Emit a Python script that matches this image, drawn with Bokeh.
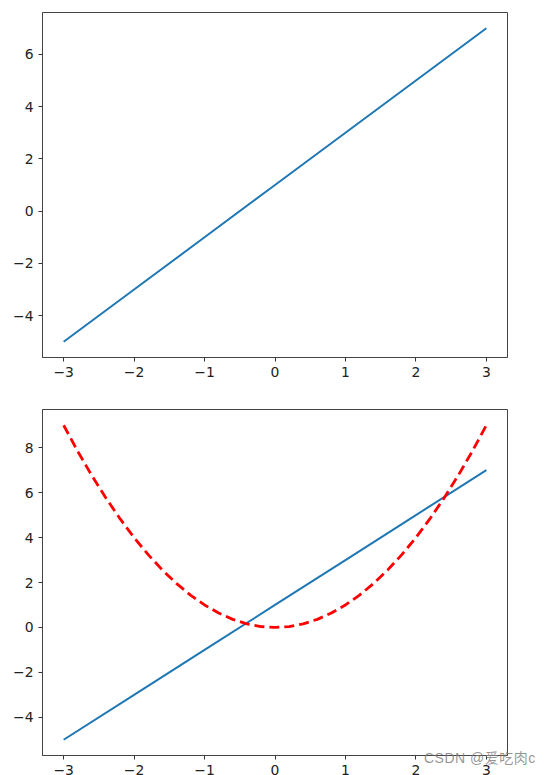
from bokeh.plotting import figure
from bokeh.layouts import column
from bokeh.models import Range1d, FixedTicker, CustomJSTickFormatter, Div
from bokeh.embed import file_html
from bokeh.resources import INLINE

# ---- data ----
line_x = [-3, -2, -1, 0, 1, 2, 3]
line_y = [-5, -3, -1, 1, 3, 5, 7]

curve_x = [-3.0, -2.8, -2.6, -2.4, -2.2, -2.0, -1.8, -1.6, -1.4, -1.2, -1.0,
           -0.8, -0.6, -0.4, -0.2, 0.0, 0.2, 0.4, 0.6, 0.8, 1.0, 1.2, 1.4,
           1.6, 1.8, 2.0, 2.2, 2.4, 2.6, 2.8, 3.0]
curve_y = [9.0, 7.84, 6.76, 5.76, 4.84, 4.0, 3.24, 2.56, 1.96, 1.44, 1.0,
           0.64, 0.36, 0.16, 0.04, 0.0, 0.04, 0.16, 0.36, 0.64, 1.0, 1.44, 1.96,
           2.56, 3.24, 4.0, 4.84, 5.76, 6.76, 7.84, 9.0]

x_ticks = [-3, -2, -1, 0, 1, 2, 3]
y_ticks_top = [-4, -2, 0, 2, 4, 6]
y_ticks_bottom = [-4, -2, 0, 2, 4, 6, 8]

watermark = "CSDN @爱吃肉c"

BLUE = "#1f77b4"
FONT = "DejaVu Sans"

fmt_code = "return tick < 0 ? '\u2212' + Math.abs(tick) : String(tick);"


def make_fig(yrange, yticks, top_border, bottom_border, frame_h):
    p = figure(output_backend="svg", toolbar_location=None,
               frame_width=465, frame_height=frame_h,
               x_range=Range1d(-3.3, 3.3), y_range=Range1d(*yrange),
               min_border_left=42, min_border_right=32,
               min_border_top=top_border, min_border_bottom=bottom_border,
               background_fill_color="white", border_fill_color="white")
    p.xgrid.visible = False
    p.ygrid.visible = False
    p.outline_line_color = "#444444"
    p.outline_line_width = 1
    for ax, ticks in ((p.xaxis[0], x_ticks), (p.yaxis[0], yticks)):
        ax.ticker = FixedTicker(ticks=ticks, minor_ticks=[])
        ax.formatter = CustomJSTickFormatter(code=fmt_code)
        ax.axis_line_color = "#444444"
        ax.axis_line_width = 1
        ax.major_tick_line_color = "#333333"
        ax.major_tick_out = 4
        ax.major_tick_in = 0
        ax.minor_tick_out = 0
        ax.minor_tick_in = 0
        ax.major_label_standoff = 5
        ax.major_label_text_font = FONT
        ax.major_label_text_font_size = "13.9px"
        ax.major_label_text_color = "#222222"
    return p


p1 = make_fig((-5.6, 7.6), y_ticks_top, 12, 44, 345)
p1.line(line_x, line_y, line_color=BLUE, line_width=2)

p2 = make_fig((-5.7, 9.7), y_ticks_bottom, 8, 30, 346)
p2.line(line_x, line_y, line_color=BLUE, line_width=2)
p2.line(curve_x, curve_y, line_color="red", line_width=2.8, line_dash="10 5")

mark = Div(text=watermark, width=125, height=20, margin=(-37, 0, 0, 424),
           styles={"font-family": "'Liberation Sans', 'Noto Sans CJK SC', sans-serif",
                   "font-size": "14px", "letter-spacing": "0.5px",
                   "line-height": "20px", "color": "rgba(130,130,130,0.85)",
                   "white-space": "nowrap"})

layout = column(p1, p2, mark, spacing=0)

open("out.html", "w").write(file_html(layout, INLINE))
